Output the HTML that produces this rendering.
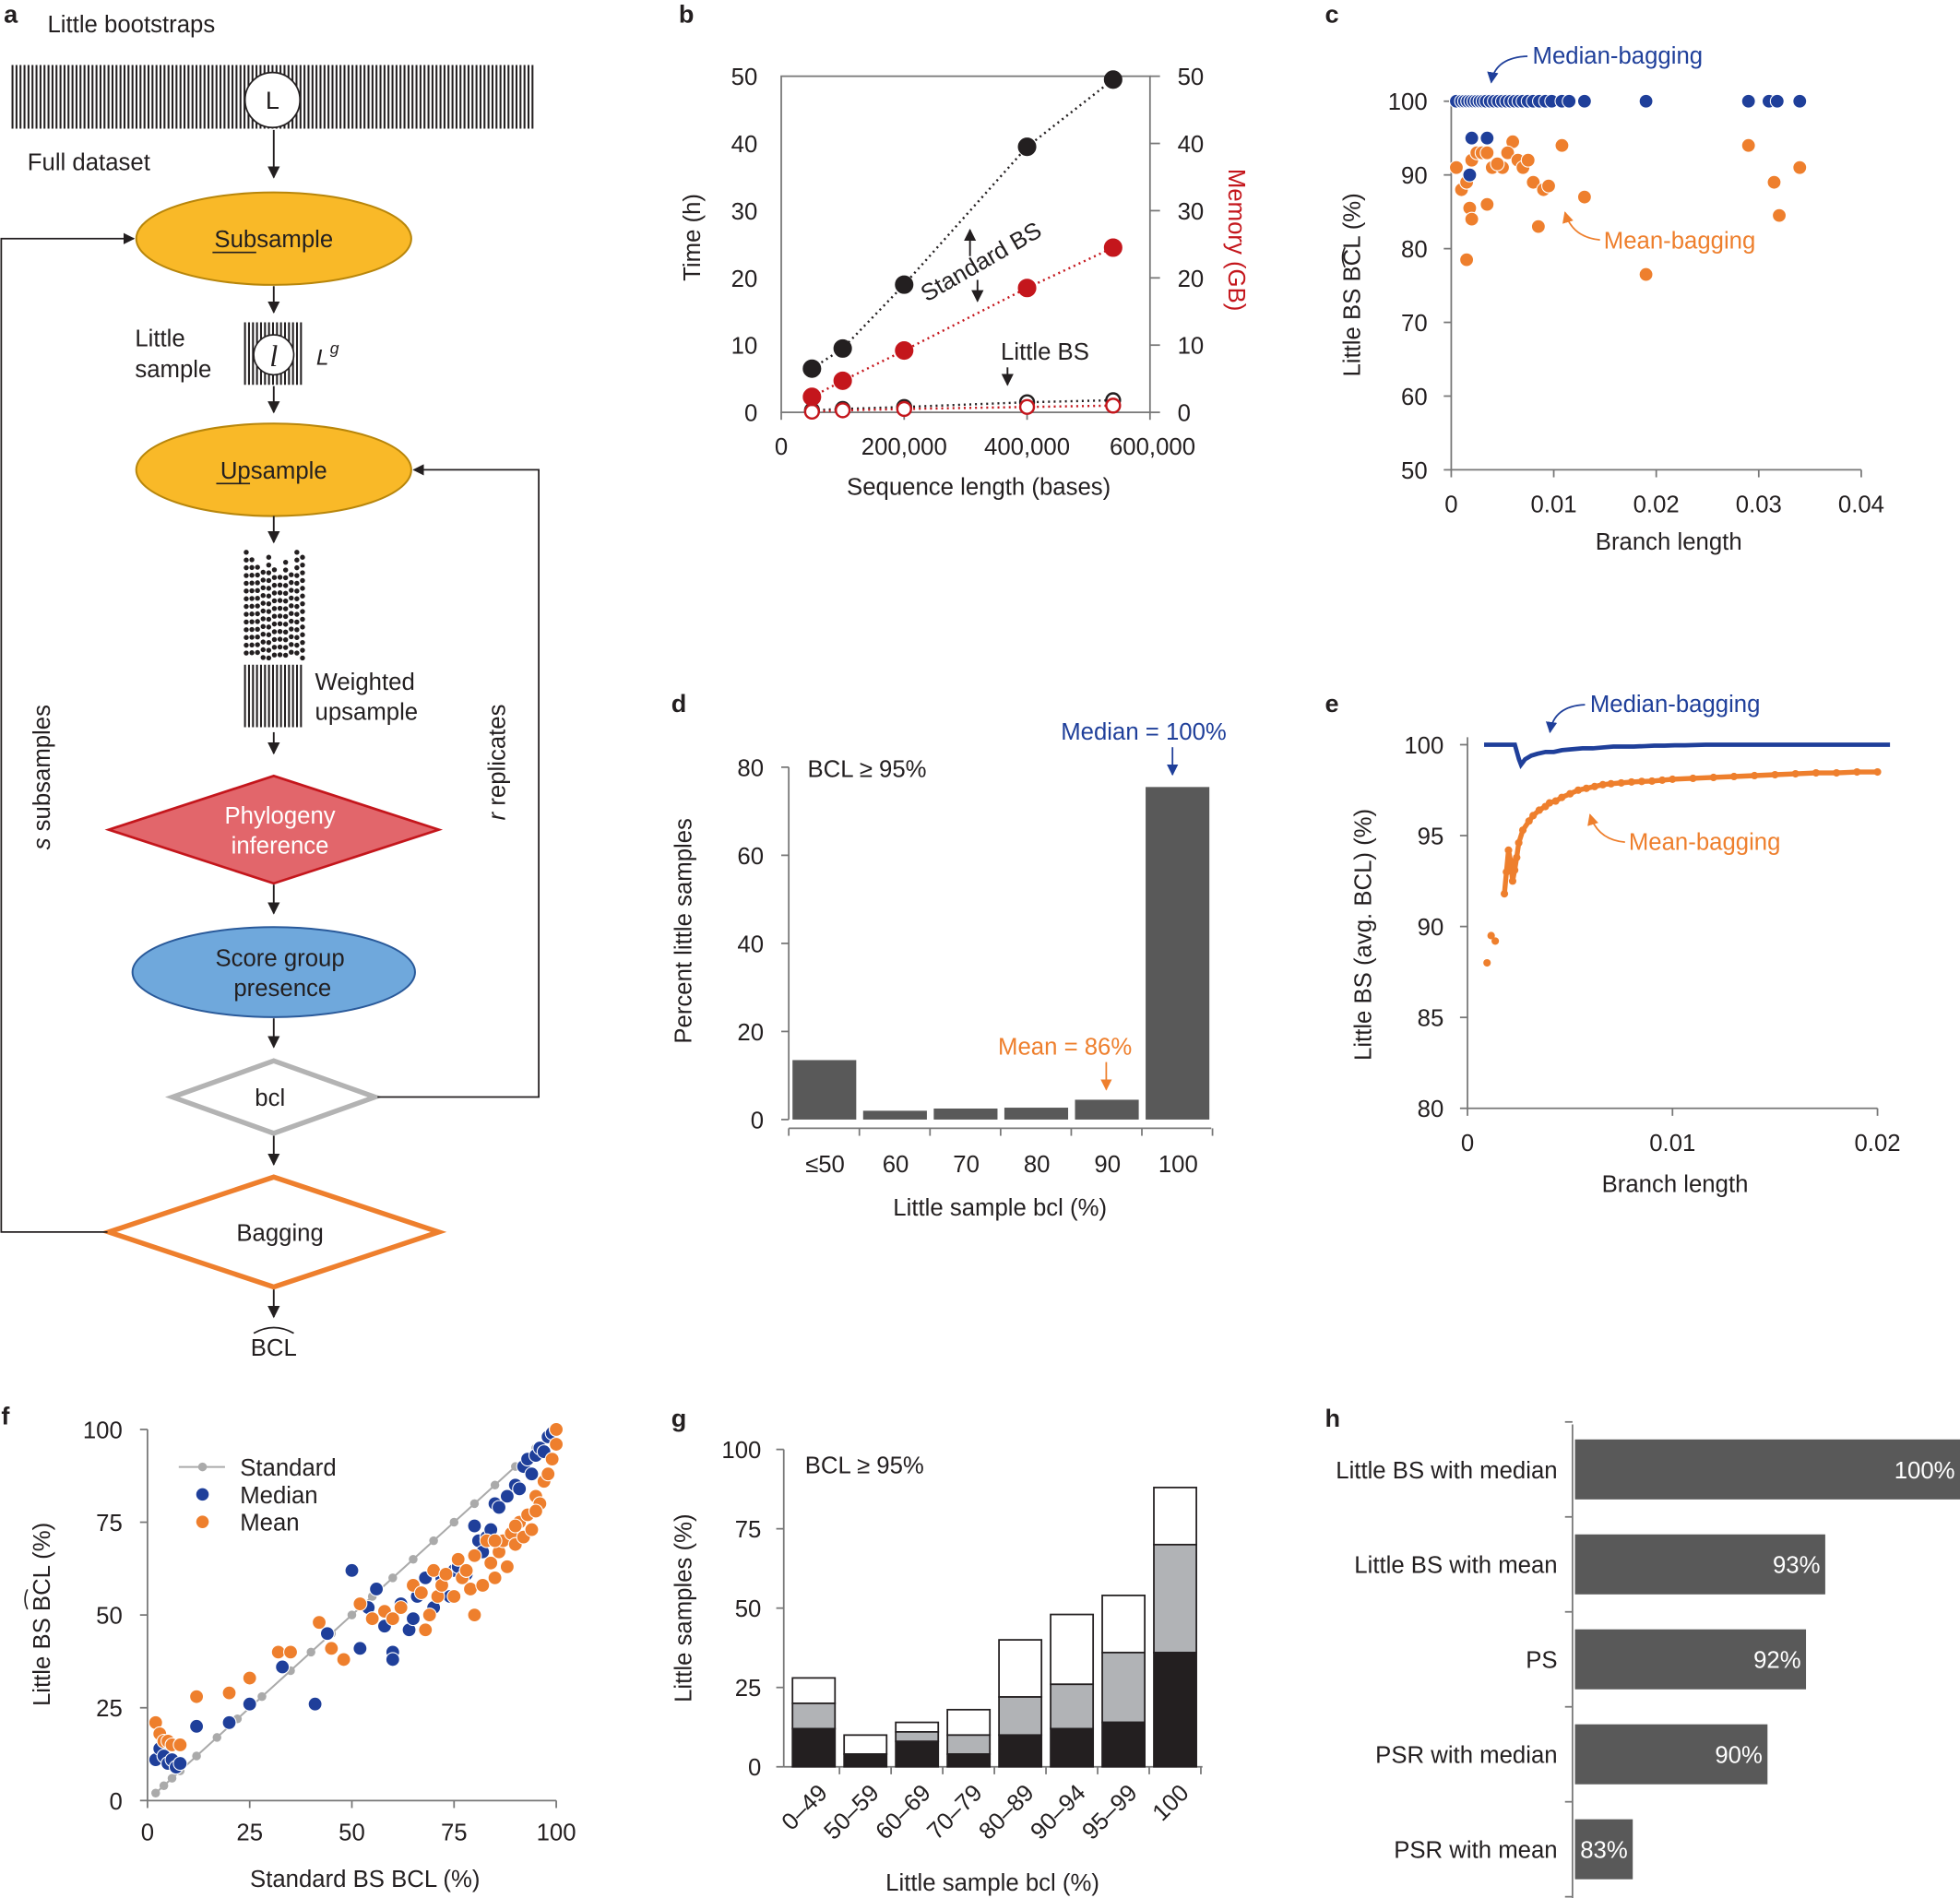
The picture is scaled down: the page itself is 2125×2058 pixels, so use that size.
<!DOCTYPE html>
<html><head><meta charset="utf-8">
<style>
html,body{margin:0;padding:0;background:#fff;}
svg{display:block;font-family:"Liberation Sans",Arial,sans-serif;}
</style></head>
<body>
<svg id="fig" width="2125" height="2058" viewBox="0 0 1568 1519" preserveAspectRatio="none" xmlns="http://www.w3.org/2000/svg">
<defs>
<marker id="ah" viewBox="0 0 10 10" refX="9" refY="5" markerWidth="7" markerHeight="7" orient="auto"><path d="M0,0 L10,5 L0,10 z" fill="#231f20"/></marker>
<marker id="ahb" viewBox="0 0 10 10" refX="9" refY="5" markerWidth="7" markerHeight="7" orient="auto"><path d="M0,0 L10,5 L0,10 z" fill="#1f3f9a"/></marker>
<marker id="aho" viewBox="0 0 10 10" refX="9" refY="5" markerWidth="7" markerHeight="7" orient="auto"><path d="M0,0 L10,5 L0,10 z" fill="#ee7f2d"/></marker>
</defs>
<g id="root"></g>
</svg>
<script>
// ---------- DATA ----------
// panel b
const bX = [50000,100000,200000,400000,540000];
const bStdTime = [6.5,9.5,19,39.5,49.5];
const bStdMem = [2.3,4.7,9.2,18.5,24.5];
const bLitTime = [0.3,0.5,0.8,1.5,1.8];
const bLitMem = [0.1,0.3,0.5,0.8,1.0];
const bTicksY = [0,10,20,30,40,50];
const bTicksX = [0,200000,400000,600000];
const bTickLabelsX = ["0","200,000","400,000","600,000"];
// panel c
const cMedX = [0.0005,0.001,0.0013,0.0016,0.0019,0.0022,0.0025,0.0028,0.0031,0.0034,0.0038,0.0042,0.0046,0.005,0.0054,0.0058,0.0062,0.0066,0.007,0.0075,0.008,0.0086,0.0092,0.0098,0.0108,0.0115,0.013,0.019,0.029,0.031,0.0318,0.034,0.002,0.0035,0.0018];
const cMedY = [100,100,100,100,100,100,100,100,100,100,100,100,100,100,100,100,100,100,100,100,100,100,100,100,100,100,100,100,100,100,100,100,95,95,90];
const cMeanX = [0.0005,0.001,0.0015,0.002,0.0025,0.003,0.0018,0.002,0.0015,0.0035,0.004,0.005,0.006,0.0055,0.0065,0.007,0.0075,0.008,0.009,0.0095,0.0085,0.0108,0.013,0.019,0.029,0.0315,0.032,0.034,0.0035,0.0045];
const cMeanY = [91,88,89,92,93,93,85.5,84,78.5,93,91,91,94.5,93,92,91,92,89,88,88.5,83,94,87,76.5,94,89,84.5,91,86,91.5];
const cTicksY = [50,60,70,80,90,100];
const cTicksX = [0,0.01,0.02,0.03,0.04];
// panel d
const dCats = ["≤50","60","70","80","90","100"];
const dVals = [13.5,2,2.5,2.7,4.5,75.5];
const dTicksY = [0,20,40,60,80];
// panel e
const eMedX = [0.0002,0.0005,0.0008,0.0011,0.0014,0.0017,0.0019,0.002,0.0022,0.0025,0.0028,0.0032,0.0036,0.004,0.0045,0.005,0.0055,0.006,0.0065,0.007,0.0075,0.008,0.0085,0.009,0.0095,0.01,0.011,0.012,0.013,0.014,0.015,0.016,0.017,0.018,0.019,0.02];
const eMedY = [100,100,100,100,100,100,99.2,98.9,99.2,99.4,99.5,99.6,99.6,99.7,99.75,99.8,99.8,99.85,99.9,99.9,99.9,99.92,99.95,99.95,99.97,99.97,100,100,100,100,100,100,100,100,100,100];
const eMeanX = [0.0001,0.0003,0.0005,0.0018,0.0019,0.002,0.0021,0.0022,0.0023,0.0024,0.0025,0.0027,0.003,0.0032,0.0035,0.0038,0.004,0.0043,0.0046,0.005,0.0054,0.0058,0.0062,0.0066,0.007,0.0075,0.008,0.0085,0.009,0.0095,0.01,0.011,0.012,0.013,0.014,0.015,0.016,0.017,0.018,0.019,0.02];
const eMeanY = [88,89.5,89.2,91.8,93,94.2,93.6,92.5,93.1,93.8,94.6,95.3,95.8,96.1,96.4,96.6,96.8,96.9,97.1,97.3,97.5,97.6,97.7,97.8,97.85,97.9,97.95,97.98,98,98.05,98.1,98.15,98.2,98.25,98.3,98.35,98.4,98.45,98.45,98.5,98.5];
const eTicksY = [80,85,90,95,100];
const eTicksX = [0,0.01,0.02];
// panel f
const fStdX = [2,4,6,8,12,17,22,28,35,40,45,50,55,60,65,70,75,80,85,90,95,100];
const fBlueX = [2,3,4,5,6,7,8,12,20,25,33,41,42,44,50,52,54,56,58,60,60,62,64,65,66,68,70,72,74,75,76,78,80,81,82,83,84,85,86,88,90,91,92,93,94,95,96,97,98,99,100];
const fBlueY = [11,14,12,10,11,9,10,20,21,26,36,26,48,45,62,41,52,57,47,40,38,53,46,49,55,60,52,60,55,62,63,61,74,70,67,71,73,80,79,82,85,84,90,92,88,93,95,94,98,99,100];
const fOrX = [2,3,4,5,6,8,12,20,25,32,35,42,45,48,52,55,58,60,62,65,67,68,69,70,71,72,73,75,76,77,78,79,80,82,83,84,85,86,87,88,89,90,91,92,93,94,95,96,97,98,99,100,100,95,90,85,80,78];
const fOrY = [21,18,16,16,15,15,28,29,33,40,40,48,41,38,53,49,51,49,52,58,56,46,50,62,55,58,61,55,65,60,62,57,50,58,70,64,60,67,70,63,72,69,75,71,77,73,82,80,86,88,92,96,100,78,74,70,66,62];
const fTicks = [0,25,50,75,100];
// panel g
const gCats = ["0–49","50–59","60–69","70–79","80–89","90–94","95–99","100"];
const gBlack = [12,4,8,4,10,12,14,36];
const gGray = [20,4,11,10,22,26,36,70];
const gTotal = [28,10,14,18,40,48,54,88];
const gTicksY = [0,25,50,75,100];
// panel h
const hCats = ["Little BS with median","Little BS with mean","PS","PSR with median","PSR with mean"];
const hVals = [100,93,92,90,83];
const hLabels = ["100%","93%","92%","90%","83%"];

// ---------- HELPERS ----------
const NS="http://www.w3.org/2000/svg";
const root=document.getElementById('root');
function mk(tag,attrs,parent){const e=document.createElementNS(NS,tag);for(const k in attrs)e.setAttribute(k,attrs[k]);(parent||root).appendChild(e);return e;}
function txt(s,x,y,size,anchor,parent,extra){const e=mk('text',Object.assign({x:x,y:y,'font-size':size||19,'text-anchor':anchor||'start',fill:'#231f20'},extra||{}),parent);e.textContent=s;return e;}
function line(x1,y1,x2,y2,stroke,w,parent,extra){return mk('line',Object.assign({x1:x1,y1:y1,x2:x2,y2:y2,stroke:stroke||'#231f20','stroke-width':w||1.3},extra||{}),parent);}
const BLUE="#1f3f9a", ORG="#ee7f2d", RED="#c4161c";

// ---------- PANEL A ----------
const pa=mk('g',{});


const la=txt('a',3,18,20,'start',pa,{'font-weight':'bold'});


txt('Little bootstraps',38,26,19,'start',pa);
const fullBar=mk('g',{},pa);


for(let x=10;x<=428;x+=3.2){line(x,52,x,103,'#231f20',1.5,fullBar);}
mk('circle',{cx:218,cy:80,r:22,fill:'#fff',stroke:'#231f20','stroke-width':1.3},pa);
txt('L',218,87,20,'middle',pa);
txt('Full dataset',22,136,19,'start',pa);
function arrow(x1,y1,x2,y2,p){return line(x1,y1,x2,y2,'#231f20',1.4,p||pa,{'marker-end':'url(#ah)'});}
arrow(219,104,219,142);
const e1=mk('ellipse',{cx:219,cy:191,rx:110,ry:37,fill:'#f9b928',stroke:'#b8860b','stroke-width':1.5},pa);


txt('Subsample',219,198,19,'middle',pa);
line(170,202,205,202,'#231f20',1.2,pa);
arrow(219,229,219,250);
const smallBar=mk('g',{},pa);


for(let x=196;x<=243;x+=3.2){line(x,258,x,308,'#231f20',1.5,smallBar);}
mk('circle',{cx:219,cy:284,r:16,fill:'#fff',stroke:'#231f20','stroke-width':1.2},pa);
txt('l',219,293,24,'middle',pa,{'font-style':'italic','font-family':'Liberation Serif, serif'});
txt('Little',108,277,19,'start',pa);
txt('sample',108,302,19,'start',pa);
txt('L',253,292,18,'start',pa,{'font-style':'italic'});
txt('g',264,283,13,'start',pa,{'font-style':'italic'});
arrow(219,309,219,330);
const e2=mk('ellipse',{cx:219,cy:376,rx:110,ry:37,fill:'#f9b928',stroke:'#b8860b','stroke-width':1.5},pa);


txt('Upsample',219,383,19,'middle',pa);
line(173,387,200,387,'#231f20',1.2,pa);
arrow(219,413,219,434);
const dots=mk('g',{},pa);


const colTops=[442,448,454,458,446,456,462,450,460,442,446];
for(let i=0;i<11;i++){for(let y=colTops[i];y<=528;y+=6.2){mk('circle',{cx:197+i*4.5,cy:y,r:2,fill:'#231f20'},dots);}}
for(let x=196;x<=243;x+=3.2){line(x,532,x,582,'#231f20',1.5,dots);}
txt('Weighted',252,552,19,'start',pa);
txt('upsample',252,576,19,'start',pa);
arrow(219,586,219,603);
const d1=mk('polygon',{points:'87,664 219,621 351,664 219,707',fill:'#e2666b',stroke:'#c4161c','stroke-width':2},pa);


txt('Phylogeny',224,659,19,'middle',pa,{fill:'#fff'});
txt('inference',224,683,19,'middle',pa,{fill:'#fff'});
arrow(219,708,219,731);
const e3=mk('ellipse',{cx:219,cy:778,rx:113,ry:36,fill:'#6fa8dc',stroke:'#2a5a9a','stroke-width':1.5},pa);


txt('Score group',224,773,19,'middle',pa);
txt('presence',226,797,19,'middle',pa);
arrow(219,815,219,838);
const d2=mk('polygon',{points:'138,878 219,849 300,878 219,907',fill:'#fff',stroke:'#b3b3b3','stroke-width':4},pa);


txt('bcl',216,885,19,'middle',pa);
arrow(219,909,219,932);
const d3=mk('polygon',{points:'87,986 219,942 351,986 219,1030',fill:'#fff',stroke:ORG,'stroke-width':4},pa);


txt('Bagging',224,993,19,'middle',pa);
arrow(219,1032,219,1054);
txt('BCL',219,1085,19,'middle',pa);
mk('path',{d:'M203,1067 Q219,1058 235,1067',fill:'none',stroke:'#231f20','stroke-width':1.3},pa);
mk('polyline',{points:'86,986 1,986 1,191 107,191',fill:'none',stroke:'#231f20','stroke-width':1.3,'marker-end':'url(#ah)'},pa);
mk('polyline',{points:'302,878 431,878 431,376 331,376',fill:'none',stroke:'#231f20','stroke-width':1.3,'marker-end':'url(#ah)'},pa);
const sl=txt('s subsamples',40,622,19,'middle',pa,{transform:'rotate(-90 40 622)'});
sl.innerHTML='<tspan font-style="italic">s</tspan> subsamples';
const rl=txt('r replicates',404,610,19,'middle',pa,{transform:'rotate(-90 404 610)'});
rl.innerHTML='<tspan font-style="italic">r</tspan> replicates';

// ---------- PANEL B ----------
const pb=mk('g',{});


txt('b',543,18,20,'start',pb,{'font-weight':'bold'});
const bx=v=>625+v/600000*295, by=v=>330-v*5.38;
mk('rect',{x:625,y:61,width:295,height:269,fill:'none',stroke:'#777','stroke-width':1.3},pb);
bTicksY.forEach(t=>{line(920,by(t),928,by(t),'#777',1.3,pb);txt(String(t),606,by(t)+7,19,'end',pb);txt(String(t),942,by(t)+7,19,'start',pb);});
bTicksX.forEach((t,i)=>{line(bx(t),330,bx(t),336,'#777',1.3,pb);txt(bTickLabelsX[i],bx(t)+(i==3?2:0),364,19,'middle',pb);});
txt('Sequence length (bases)',783,396,19,'middle',pb);
txt('Time  (h)',560,190,19,'middle',pb,{transform:'rotate(-90 560 190)'});
txt('Memory (GB)',983,192,19,'middle',pb,{transform:'rotate(90 983 192)',fill:RED});
function series(xs,ys,color,filled,name){const g=mk('g',{},pb);
 mk('polyline',{points:xs.map((x,i)=>bx(x)+','+by(ys[i])).join(' '),fill:'none',stroke:color,'stroke-width':1.8,'stroke-dasharray':'1.5,3'},g);
 xs.forEach((x,i)=>{mk('circle',{cx:bx(x),cy:by(ys[i]),r:filled?6.5:5.5,fill:filled?color:'#fff',stroke:color,'stroke-width':1.8},g);});}
series(bX,bLitTime,'#231f20',false,'little-bs-time-series');
series(bX,bLitMem,RED,false,'little-bs-memory-series');
series(bX,bStdMem,RED,true,'standard-bs-memory-series');
series(bX,bStdTime,'#231f20',true,'standard-bs-time-series');
txt('Standard BS',788,215,19,'middle',pb,{transform:'rotate(-30 788 215)'});
arrow(776,205,776,184,pb);arrow(782,224,782,241,pb);
txt('Little BS',836,288,19,'middle',pb);
arrow(806,294,806,308,pb);

// ---------- PANEL C ----------
const pc=mk('g',{});


txt('c',1060,18,20,'start',pc,{'font-weight':'bold'});
const cx=v=>1161+v*8200, cy=v=>376-(v-50)*5.9;
line(1161,81,1161,376,'#777',1.3,pc);line(1161,376,1489,376,'#777',1.3,pc);
cTicksY.forEach(t=>{line(1155,cy(t),1161,cy(t),'#777',1.3,pc);txt(String(t),1142,cy(t)+7,19,'end',pc);});
cTicksX.forEach(t=>{line(cx(t),376,cx(t),382,'#777',1.3,pc);txt(String(t),cx(t),410,19,'middle',pc);});
txt('Branch length',1335,440,19,'middle',pc);
txt('Little BS BCL (%)',1088,228,19,'middle',pc,{transform:'rotate(-90 1088 228)'});
mk('path',{d:'M1076,198 Q1072,206 1076,214',fill:'none',stroke:'#231f20','stroke-width':1.2},pc);
const cMean=mk('g',{},pc);
cMeanX.forEach((x,i)=>mk('circle',{cx:cx(x),cy:cy(cMeanY[i]),r:5.5,fill:ORG,stroke:'#fff','stroke-width':0.8},cMean));
const cMed=mk('g',{},pc);
cMedX.forEach((x,i)=>mk('circle',{cx:cx(x),cy:cy(cMedY[i]),r:5.5,fill:BLUE,stroke:'#fff','stroke-width':0.8},cMed));
txt('Median-bagging',1226,51,19,'start',pc,{fill:BLUE});
mk('path',{d:'M1222,45 Q1196,46 1193,66',fill:'none',stroke:BLUE,'stroke-width':1.3,'marker-end':'url(#ahb)'},pc);
txt('Mean-bagging',1283,199,19,'start',pc,{fill:ORG});
mk('path',{d:'M1280,192 Q1258,190 1252,170',fill:'none',stroke:ORG,'stroke-width':1.3,'marker-end':'url(#aho)'},pc);

// ---------- PANEL D ----------
const pd=mk('g',{});


txt('d',537,570,20,'start',pd,{'font-weight':'bold'});
const dy=v=>896-v*3.525;
line(631,614,631,896,'#777',1.3,pd);line(631,903,969,903,'#777',1.3,pd);
dTicksY.forEach(t=>{line(625,dy(t),631,dy(t),'#777',1.3,pd);txt(String(t),611,dy(t)+7,19,'end',pd);});
dCats.forEach((c,i)=>{const x0=634+i*56.5;const r=mk('rect',{x:x0,y:dy(dVals[i]),width:51,height:dVals[i]*3.525,fill:'#595959'},pd);
 
 line(x0+53.5,903,x0+53.5,909,'#777',1.3,pd);txt(c,x0+26,938,19,'middle',pd);});
line(631,903,631,909,'#777',1.3,pd);
txt('Little sample bcl (%)',800,973,19,'middle',pd);
txt('Percent  little samples',553,745,19,'middle',pd,{transform:'rotate(-90 553 745)'});
txt('BCL ≥ 95%',646,622,19,'start',pd);
txt('Median = 100%',915,592,19,'middle',pd,{fill:BLUE});
line(938,598,938,620,BLUE,1.3,pd,{'marker-end':'url(#ahb)'});
txt('Mean = 86%',852,844,19,'middle',pd,{fill:ORG});
line(885,850,885,872,ORG,1.3,pd,{'marker-end':'url(#aho)'});

// ---------- PANEL E ----------
const pe=mk('g',{});


txt('e',1060,570,20,'start',pe,{'font-weight':'bold'});
const ex=v=>1174+v*16400, ey=v=>887-(v-80)*14.55;
line(1174,590,1174,887,'#777',1.3,pe);line(1174,887,1502,887,'#777',1.3,pe);
eTicksY.forEach(t=>{line(1168,ey(t),1174,ey(t),'#777',1.3,pe);txt(String(t),1155,ey(t)+7,19,'end',pe);});
eTicksX.forEach(t=>{line(ex(t),887,ex(t),893,'#777',1.3,pe);txt(String(t),ex(t),921,19,'middle',pe);});
txt('Branch length',1340,954,19,'middle',pe);
txt('Little BS (avg. BCL) (%)',1097,748,19,'middle',pe,{transform:'rotate(-90 1097 748)'});
const eMean=mk('g',{},pe);
mk('polyline',{points:eMeanX.slice(3).map((x,i)=>ex(x)+','+ey(eMeanY[i+3])).join(' '),fill:'none',stroke:ORG,'stroke-width':4},eMean);
eMeanX.forEach((x,i)=>mk('circle',{cx:ex(x)+(i<3?14:0),cy:ey(eMeanY[i]),r:3,fill:ORG},eMean));
const eMed=mk('g',{},pe);
mk('polyline',{points:eMedX.map((x,i)=>(ex(x)+10)+','+ey(eMedY[i])).join(' '),fill:'none',stroke:BLUE,'stroke-width':3.5},eMed);
txt('Median-bagging',1272,570,19,'start',pe,{fill:BLUE});
mk('path',{d:'M1268,564 Q1243,565 1240,586',fill:'none',stroke:BLUE,'stroke-width':1.3,'marker-end':'url(#ahb)'},pe);
txt('Mean-bagging',1303,680,19,'start',pe,{fill:ORG});
mk('path',{d:'M1300,674 Q1278,672 1272,652',fill:'none',stroke:ORG,'stroke-width':1.3,'marker-end':'url(#aho)'},pe);

// ---------- PANEL F ----------
const pf=mk('g',{});


txt('f',1,1140,20,'start',pf,{'font-weight':'bold'});
const fx=v=>118+v*3.27, fy=v=>1441-v*2.97;
line(118,1144,118,1441,'#777',1.3,pf);line(118,1441,445,1441,'#777',1.3,pf);
fTicks.forEach(t=>{line(112,fy(t),118,fy(t),'#777',1.3,pf);txt(String(t),98,fy(t)+7,19,'end',pf);
 line(fx(t),1441,fx(t),1447,'#777',1.3,pf);txt(String(t),fx(t),1473,19,'middle',pf);});
txt('Standard BS BCL (%)',292,1510,19,'middle',pf);
txt('Little BS BCL (%)',40,1292,19,'middle',pf,{transform:'rotate(-90 40 1292)'});
mk('path',{d:'M22,1272 Q18,1280 22,1288',fill:'none',stroke:'#231f20','stroke-width':1.2},pf);
const fs=mk('g',{},pf);
mk('polyline',{points:fStdX.map(x=>fx(x)+','+fy(x)).join(' '),fill:'none',stroke:'#aaa','stroke-width':1.5},fs);
fStdX.forEach(x=>mk('circle',{cx:fx(x),cy:fy(x),r:3.5,fill:'#aaa'},fs));
const fb=mk('g',{},pf);
fBlueX.forEach((x,i)=>mk('circle',{cx:fx(x),cy:fy(fBlueY[i]),r:5.5,fill:BLUE,stroke:'#fff','stroke-width':0.8},fb));
const fo=mk('g',{},pf);
fOrX.forEach((x,i)=>mk('circle',{cx:fx(x),cy:fy(fOrY[i]),r:5.5,fill:ORG,stroke:'#fff','stroke-width':0.8},fo));
const leg=mk('g',{},pf);
line(143,1174,180,1174,'#aaa',1.5,leg);mk('circle',{cx:162,cy:1174,r:3.5,fill:'#aaa'},leg);
txt('Standard',192,1181,19,'start',leg);
mk('circle',{cx:162,cy:1196,r:5,fill:BLUE},leg);txt('Median',192,1203,19,'start',leg);
mk('circle',{cx:162,cy:1218,r:5,fill:ORG},leg);txt('Mean',192,1225,19,'start',leg);

// ---------- PANEL G ----------
const pg=mk('g',{});


txt('g',537,1142,20,'start',pg,{'font-weight':'bold'});
const gy=v=>1414-v*2.54;
line(627,1160,627,1414,'#777',1.3,pg);line(627,1414,962,1414,'#777',1.3,pg);
gTicksY.forEach(t=>{line(621,gy(t),627,gy(t),'#777',1.3,pg);txt(String(t),609,gy(t)+7,19,'end',pg);});
gCats.forEach((c,i)=>{const cxm=651+i*41.3;const g=mk('g',{},pg);
 mk('rect',{x:cxm-17,y:gy(gTotal[i]),width:34,height:(gTotal[i]-gGray[i])*2.54,fill:'#fff',stroke:'#231f20','stroke-width':1.3},g);
 mk('rect',{x:cxm-17,y:gy(gGray[i]),width:34,height:(gGray[i]-gBlack[i])*2.54,fill:'#b1b3b6',stroke:'#231f20','stroke-width':1.3},g);
 mk('rect',{x:cxm-17,y:gy(gBlack[i]),width:34,height:gBlack[i]*2.54,fill:'#231f20',stroke:'#231f20','stroke-width':1.3},g);
 line(cxm+20.6,1414,cxm+20.6,1420,'#777',1.3,pg);
 txt(c,cxm+12,1436,19,'end',pg,{transform:'rotate(-45 '+(cxm+12)+' 1436)'});});
txt('Little sample bcl (%)',794,1513,19,'middle',pg);
txt('Little samples (%)',553,1287,19,'middle',pg,{transform:'rotate(-90 553 1287)'});
txt('BCL ≥ 95%',644,1179,19,'start',pg);

// ---------- PANEL H ----------
const ph=mk('g',{});


txt('h',1060,1142,20,'start',ph,{'font-weight':'bold'});
const hx=v=>1260+(v-80)/20*308;
line(1258,1140,1258,1519,'#777',1.3,ph);
hCats.forEach((c,i)=>{const yc=1176+i*76;const r=mk('rect',{x:1260,y:yc-24,width:hx(hVals[i])-1260,height:48,fill:'#595959'},ph);
 
 txt(c,1246,yc+7,19,'end',ph);txt(hLabels[i],hx(hVals[i])-4,yc+7,19,'end',ph,{fill:'#fff'});
 line(1252,yc+38,1258,yc+38,'#777',1.3,ph);});
line(1252,1138,1258,1138,'#777',1.3,ph);
</script>
</body></html>
